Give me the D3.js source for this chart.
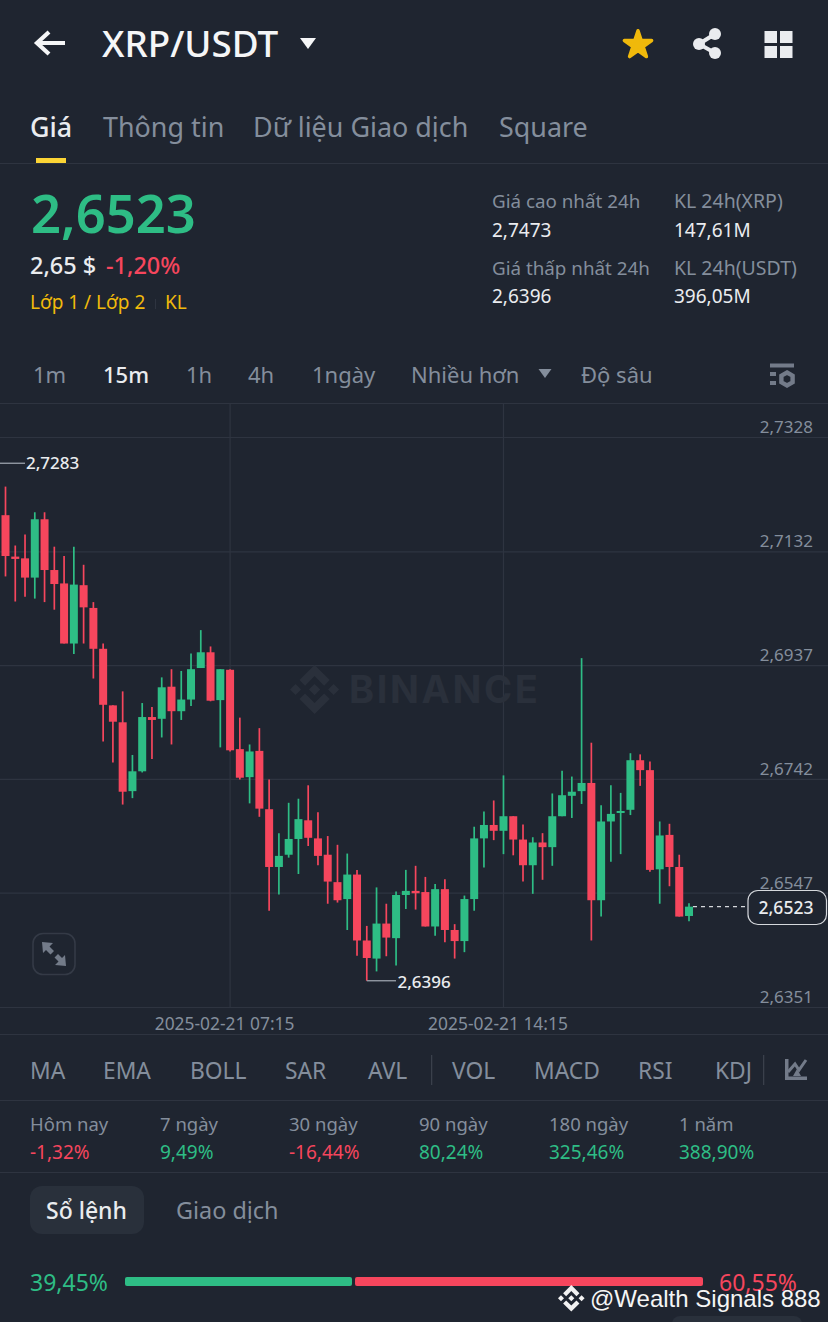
<!DOCTYPE html>
<html>
<head>
<meta charset="utf-8">
<title>XRP/USDT</title>
<script src="https://cdn.jsdelivr.net/npm/d3@7/dist/d3.min.js"></script>
<style>
  html, body { margin: 0; padding: 0; background: #1f2530; }
  svg { display: block; }
  text { font-family: "Noto Sans", sans-serif; }
</style>
</head>
<body>
<div id="main_vis"></div>
<script>
// candles, 15m each, left to right
var opens = [2.7194,2.7123,2.7120,2.7087,2.7187,2.7100,2.7077,2.6974,2.7074,2.7035,2.6965,2.6868,2.6839,2.6721,2.6755,2.6848,2.6845,2.6900,2.6858,2.6878,2.6932,2.6959,2.6877,2.6929,2.6793,2.6745,2.6790,2.6690,2.6591,2.6612,2.6639,2.6671,2.6640,2.6612,2.6565,2.6536,2.6578,2.6465,2.6434,2.6494,2.6469,2.6543,2.6550,2.6548,2.6489,2.6553,2.6483,2.6464,2.6536,2.6640,2.6663,2.6653,2.6678,2.6638,2.6594,2.6633,2.6625,2.6678,2.6713,2.6721,2.6735,2.6534,2.6669,2.6684,2.6689,2.6774,2.6757,2.6587,2.6646,2.6591,2.6507];
var highs = [2.7243,2.7142,2.7161,2.7199,2.7199,2.7140,2.7124,2.7140,2.7109,2.7045,2.6974,2.6868,2.6892,2.6783,2.6872,2.6865,2.6916,2.6930,2.6927,2.6957,2.6997,2.6969,2.6930,2.6930,2.6847,2.6801,2.6829,2.6741,2.6649,2.6701,2.6708,2.6731,2.6685,2.6644,2.6629,2.6614,2.6586,2.6490,2.6556,2.6528,2.6549,2.6586,2.6593,2.6574,2.6562,2.6570,2.6493,2.6542,2.6660,2.6686,2.6705,2.6748,2.6678,2.6664,2.6642,2.6649,2.6717,2.6756,2.6746,2.6949,2.6804,2.6697,2.6731,2.6718,2.6786,2.6784,2.6772,2.6669,2.6665,2.6612,2.6529];
var lows = [2.7089,2.7046,2.7054,2.7051,2.7045,2.7032,2.6974,2.6956,2.6974,2.6914,2.6806,2.6770,2.6698,2.6709,2.6753,2.6776,2.6813,2.6801,2.6843,2.6867,2.6932,2.6875,2.6796,2.6789,2.6741,2.6700,2.6677,2.6516,2.6544,2.6607,2.6579,2.6627,2.6594,2.6528,2.6530,2.6483,2.6439,2.6396,2.6412,2.6438,2.6422,2.6519,2.6518,2.6489,2.6473,2.6462,2.6434,2.6445,2.6516,2.6590,2.6637,2.6613,2.6611,2.6566,2.6545,2.6569,2.6593,2.6678,2.6675,2.6699,2.6465,2.6506,2.6600,2.6613,2.6680,2.6730,2.6583,2.6528,2.6558,2.6506,2.6498];
var closes = [2.7124,2.7119,2.7087,2.7187,2.7100,2.7076,2.6974,2.7075,2.7036,2.6965,2.6869,2.6840,2.6720,2.6755,2.6848,2.6843,2.6899,2.6858,2.6878,2.6930,2.6959,2.6876,2.6930,2.6791,2.6744,2.6789,2.6691,2.6591,2.6610,2.6639,2.6673,2.6641,2.6610,2.6566,2.6534,2.6578,2.6465,2.6435,2.6494,2.6470,2.6543,2.6550,2.6546,2.6489,2.6553,2.6483,2.6464,2.6536,2.6640,2.6663,2.6653,2.6678,2.6638,2.6594,2.6633,2.6625,2.6678,2.6714,2.6720,2.6735,2.6534,2.6669,2.6682,2.6687,2.6774,2.6757,2.6586,2.6645,2.6591,2.6506,2.6523];

var priceTicks = [2.7328, 2.7132, 2.6937, 2.6742, 2.6547, 2.6351];
var firstCandle = new Date(2025, 1, 21, 1, 30);
var timeTicks = [new Date(2025, 1, 21, 7, 15), new Date(2025, 1, 21, 14, 15)];
var highMark = 2.7283;
var lowMark = 2.6396;
var lastPrice = 2.6523;

var tabLabels = ["Giá", "Thông tin", "Dữ liệu Giao dịch", "Square"];
var intervalLabels = ["1m", "15m", "1h", "4h", "1ngày", "Nhiều hơn", "Độ sâu"];
var indicatorLabels = ["MA", "EMA", "BOLL", "SAR", "AVL", "VOL", "MACD", "RSI", "KDJ"];
var periodLabels = ["Hôm nay", "7 ngày", "30 ngày", "90 ngày", "180 ngày", "1 năm"];
var periodValues = [-1.32, 9.49, -16.44, 80.24, 325.46, 388.90];
var bookShares = [39.45, 60.55];

// colours
var BG = "#1f2530", GRID = "#2e3440", GREEN = "#2ebd85", RED = "#f6465d",
    YELLOW = "#f0b90b", WHITE = "#eaecef", GREY = "#848e9c", DIM = "#3a404b", ICON = "#737b89";

var LOGO = "M38.73 53.2l24.59-24.58 24.6 24.6 14.3-14.31L63.32 0 24.43 38.9z M0 63.31l14.3-14.31 14.31 14.31-14.31 14.3z M38.73 73.41l24.59 24.59 24.6-24.6 14.31 14.29-38.9 38.91-38.91-38.88-.02-.02z M98.01 63.31l14.3-14.31 14.31 14.3-14.31 14.32z M77.83 63.3l-14.51-14.52-10.73 10.73-1.24 1.23-2.54 2.54 14.51 14.5 14.51-14.47z";

var W = 828, H = 1322;
var svg = d3.select("#main_vis").append("svg").attr("width", W).attr("height", H);
svg.append("rect").attr("width", W).attr("height", H).attr("fill", BG);

// decimal comma and a plain hyphen, as on the app
var comma = function (v, digits) {
    return d3.format("." + digits + "f")(v).replace(".", ",").replace("\u2212", "-");
};

// plain text helper
var label = function (x, y, txt, size, color, weight, anchor) {
    return svg.append("text").attr("x", x).attr("y", y).text(txt)
        .attr("font-size", size).attr("fill", color)
        .attr("font-weight", weight || 400)
        .attr("text-anchor", anchor || "start");
};
var hline = function (y) {
    svg.append("line").attr("x1", 0).attr("x2", W).attr("y1", y).attr("y2", y)
        .attr("stroke", GRID).attr("stroke-width", 1.2);
};
var tri = function (cx, top, w, h, color) {
    svg.append("path").attr("fill", color)
        .attr("d", "M" + (cx - w / 2) + " " + top + "h" + w + "l" + (-w / 2) + " " + h + "z");
};

/* header */
svg.append("path").attr("d", "M37 43H65M49 32L37 43L49 54")
    .attr("fill", "none").attr("stroke", "#f5f6f7").attr("stroke-width", 4.2);
label(102, 57, "XRP/USDT", 36.8, "#f5f6f7", 500);
tri(308, 38, 16, 11, "#f5f6f7");
svg.append("path").attr("fill", YELLOW).attr("stroke", YELLOW).attr("stroke-width", 3.5).attr("stroke-linejoin", "round")
    .attr("transform", "translate(638,45)")
    .attr("d", d3.symbol().type(d3.symbolStar).size(230)());
// share icon
svg.append("path").attr("d", "M715 34L699 44L715 53").attr("fill", "none").attr("stroke", WHITE).attr("stroke-width", 4);
[[715, 34], [699, 44], [715, 53]].forEach(function (c) {
    svg.append("circle").attr("cx", c[0]).attr("cy", c[1]).attr("r", 6).attr("fill", WHITE);
});
// layout icon
[[764.5, 31], [780, 31], [764.5, 46], [780, 46]].forEach(function (c) {
    svg.append("rect").attr("x", c[0]).attr("y", c[1]).attr("width", 12.5).attr("height", 12).attr("fill", WHITE);
});

/* tabs */
var tabX = [30, 103, 253, 499];
tabLabels.forEach(function (t, i) {
    label(tabX[i], 137, t, 26.9, i == 0 ? WHITE : GREY, i == 0 ? 500 : 400);
});
svg.append("rect").attr("x", 36).attr("y", 158).attr("width", 30).attr("height", 5).attr("fill", "#fcd535");
hline(163.5);

/* price block */
label(31, 233, comma(lastPrice, 4), 52.5, GREEN, 600);
label(30, 274, "2,65 $", 23.5, WHITE, 500);
label(106, 274, "-1,20%", 23.5, RED, 500);
label(30, 309, "Lớp 1 / Lớp 2", 19, YELLOW);
svg.append("rect").attr("x", 155).attr("y", 299).attr("width", 1).attr("height", 10).attr("fill", GRID);
label(165, 309, "KL", 19, YELLOW);

label(492, 208, "Giá cao nhất 24h", 18.8, GREY);
label(492, 237, "2,7473", 19, WHITE);
label(492, 275, "Giá thấp nhất 24h", 18.8, GREY);
label(492, 303, "2,6396", 19, WHITE);
label(674, 208, "KL 24h(XRP)", 19.5, GREY);
label(674, 237, "147,61M", 19, WHITE);
label(674, 275, "KL 24h(USDT)", 19.5, GREY);
label(674, 303, "396,05M", 19, WHITE);

/* interval row */
var intervalX = [33, 103, 186, 248, 312, 411, 581];
intervalLabels.forEach(function (t, i) {
    label(intervalX[i], 383, t, 22, i == 1 ? WHITE : GREY, i == 1 ? 500 : 400);
});
tri(545, 369, 13, 9, GREY);
// chart settings icon
svg.append("path").attr("fill", ICON)
    .attr("d", "M770 363.5H794V367.5H770Z M770 372H776V376H770Z M770 381H776V385H770Z");
svg.append("path").attr("fill", "none").attr("stroke", ICON).attr("stroke-width", 4.4)
    .attr("d", "M787 372.5L792.6 375.7V382.3L787 385.5L781.4 382.3V375.7Z");
hline(403.5);

/* chart */
var times = opens.map(function (d, i) { return d3.timeMinute.offset(firstCandle, i * 15); });
var x = d3.scaleTime().domain([times[0], times[times.length - 1]]).range([5.5, 689]);
var y = d3.scaleLinear().domain([2.7328, 2.6351]).range([437, 1007]);
var bodyW = 8;

var chart = svg.append("g");

// grid, drawn through the axes
chart.append("g")
    .call(d3.axisRight(y).tickValues(priceTicks).tickSize(W).tickFormat(""))
    .call(function (g) {
        g.select(".domain").remove();
        g.selectAll("line").attr("stroke", GRID).attr("stroke-width", 1.2);
    });
chart.append("g").attr("transform", "translate(-0.5,403)")
    .call(d3.axisBottom(x).tickValues(timeTicks).tickSize(604).tickFormat(""))
    .call(function (g) {
        g.select(".domain").remove();
        g.selectAll("line").attr("stroke", GRID).attr("stroke-width", 1.2);
    });

// watermark
chart.append("path").attr("d", LOGO).attr("fill", "#2a303b")
    .attr("transform", "translate(290,665) scale(0.388)");
chart.append("text").attr("x", 349).attr("y", 703).text("BINANCE")
    .style("font-family", "Inter, sans-serif")
    .attr("font-size", 38).attr("font-weight", 700).attr("letter-spacing", 2.6).attr("fill", "#2a303b");

// price axis labels sit above their grid lines
chart.append("g").attr("transform", "translate(816,-10)")
    .call(d3.axisLeft(y).tickValues(priceTicks).tickSize(0).tickFormat(function (d) { return comma(d, 4); }))
    .call(function (g) {
        g.select(".domain").remove();
        g.selectAll("text").attr("font-size", 17).attr("fill", GREY).style("font-family", '"Noto Sans", sans-serif');
    });

// time axis labels
chart.append("g").attr("transform", "translate(-6,1014.5)")
    .call(d3.axisBottom(x).tickValues(timeTicks).tickSize(0).tickFormat(d3.timeFormat("%Y-%m-%d %H:%M")))
    .call(function (g) {
        g.select(".domain").remove();
        g.selectAll("text").attr("font-size", 17.4).attr("fill", GREY).style("font-family", '"Noto Sans", sans-serif');
    });
hline(1034.5);

// candles
var isUp = function (i) { return closes[i] >= opens[i]; };
var candle = chart.append("g").selectAll("g").data(times).enter().append("g");
candle.append("line")
    .attr("x1", function (d) { return x(d); }).attr("x2", function (d) { return x(d); })
    .attr("y1", function (d, i) { return y(highs[i]); })
    .attr("y2", function (d, i) { return y(lows[i]); })
    .attr("stroke", function (d, i) { return isUp(i) ? GREEN : RED; })
    .attr("stroke-width", 1.7);
candle.append("rect")
    .attr("x", function (d) { return x(d) - bodyW / 2; })
    .attr("width", bodyW)
    .attr("y", function (d, i) { return y(Math.max(opens[i], closes[i])); })
    .attr("height", function (d, i) { return Math.max(2, Math.abs(y(opens[i]) - y(closes[i]))); })
    .attr("fill", function (d, i) { return isUp(i) ? GREEN : RED; });

// highest / lowest markers
var markLine = function (x1, x2, yy) {
    svg.append("line").attr("x1", x1).attr("x2", x2).attr("y1", yy).attr("y2", yy)
        .attr("stroke", "#9aa1ab").attr("stroke-width", 1.3);
};
markLine(0, 25, y(highMark));
label(26, y(highMark) + 6, comma(highMark, 4), 17, WHITE, 500);
markLine(x(times[37]), 396, y(lowMark));
label(397.5, y(lowMark) + 7, comma(lowMark, 4), 17, WHITE, 500);

// last price tag
svg.append("line").attr("x1", x(times[70]) + 4).attr("x2", 747).attr("y1", y(lastPrice)).attr("y2", y(lastPrice))
    .attr("stroke", "#d5d8dc").attr("stroke-width", 1.2).attr("stroke-dasharray", "4 4");
svg.append("rect").attr("x", 748).attr("y", 890.5).attr("width", 78.5).attr("height", 34).attr("rx", 10)
    .attr("fill", BG).attr("stroke", "#d5d8dc").attr("stroke-width", 1.2);
label(786, y(lastPrice) + 7, comma(lastPrice, 4), 17.5, WHITE, 500, "middle");

// expand button
svg.append("rect").attr("x", 33).attr("y", 933.5).attr("width", 42).attr("height", 41).attr("rx", 10)
    .attr("fill", "none").attr("stroke", "#343a46").attr("stroke-width", 1.6);
svg.append("path").attr("fill", ICON)
    .attr("d", "M42 942L53 943L49.5 946.5L54 951L50.5 954.5L46 950L43 953Z M66 966L55 965L58.5 961.5L54.5 957.5L58 954L62 958L65 955Z");

/* indicator row */
var indicatorX = [30, 103, 190, 285, 368, 452, 534, 638, 715];
indicatorLabels.forEach(function (t, i) { label(indicatorX[i], 1079, t, 22.8, GREY); });
svg.append("rect").attr("x", 431).attr("y", 1055).attr("width", 1.3).attr("height", 30).attr("fill", DIM);
svg.append("rect").attr("x", 763).attr("y", 1055).attr("width", 1.3).attr("height", 30).attr("fill", DIM);
svg.append("path").attr("fill", ICON)
    .attr("d", "M785 1059H788.5V1076.5H807V1080H785Z M793 1076L797 1069L801 1076Z");
svg.append("path").attr("fill", "none").attr("stroke", ICON).attr("stroke-width", 3)
    .attr("d", "M788 1072L795 1064L799 1070L806 1060");
hline(1100.5);

/* change by period */
var periodX = [30, 160, 289, 419, 549, 679];
periodLabels.forEach(function (t, i) {
    label(periodX[i], 1131, t, 18.5, GREY);
    label(periodX[i], 1159, comma(periodValues[i], 2) + "%", 19, periodValues[i] < 0 ? RED : GREEN);
});
hline(1172.5);

/* order book */
svg.append("rect").attr("x", 30).attr("y", 1186).attr("width", 114).attr("height", 48).attr("rx", 12).attr("fill", "#29303b");
label(46, 1219, "Sổ lệnh", 23, WHITE, 500);
label(176, 1219, "Giao dịch", 23.4, GREY);

var share = d3.scaleLinear().domain([0, 100]).range([125, 703]);
label(30, 1291, comma(bookShares[0], 2) + "%", 23, GREEN);
svg.append("rect").attr("x", share(0)).attr("y", 1277).attr("width", share(bookShares[0]) - share(0) - 1).attr("height", 9).attr("rx", 2).attr("fill", GREEN);
svg.append("rect").attr("x", share(bookShares[0]) + 2).attr("y", 1277).attr("width", share(100) - share(bookShares[0]) - 2).attr("height", 9).attr("rx", 2).attr("fill", RED);
label(719, 1291, comma(bookShares[1], 2) + "%", 23, RED);
svg.append("rect").attr("x", 672).attr("y", 1316).attr("width", 130).attr("height", 20).attr("rx", 8).attr("fill", "#29303b");

/* repost watermark */
svg.append("path").attr("d", LOGO).attr("fill", "#f2f2f2")
    .attr("transform", "translate(558,1285) scale(0.21)");
label(590, 1307, "@Wealth Signals 888", 24, "#f5f5f5").style("font-family", '"Liberation Sans", Arial, sans-serif');
</script>
</body>
</html>
